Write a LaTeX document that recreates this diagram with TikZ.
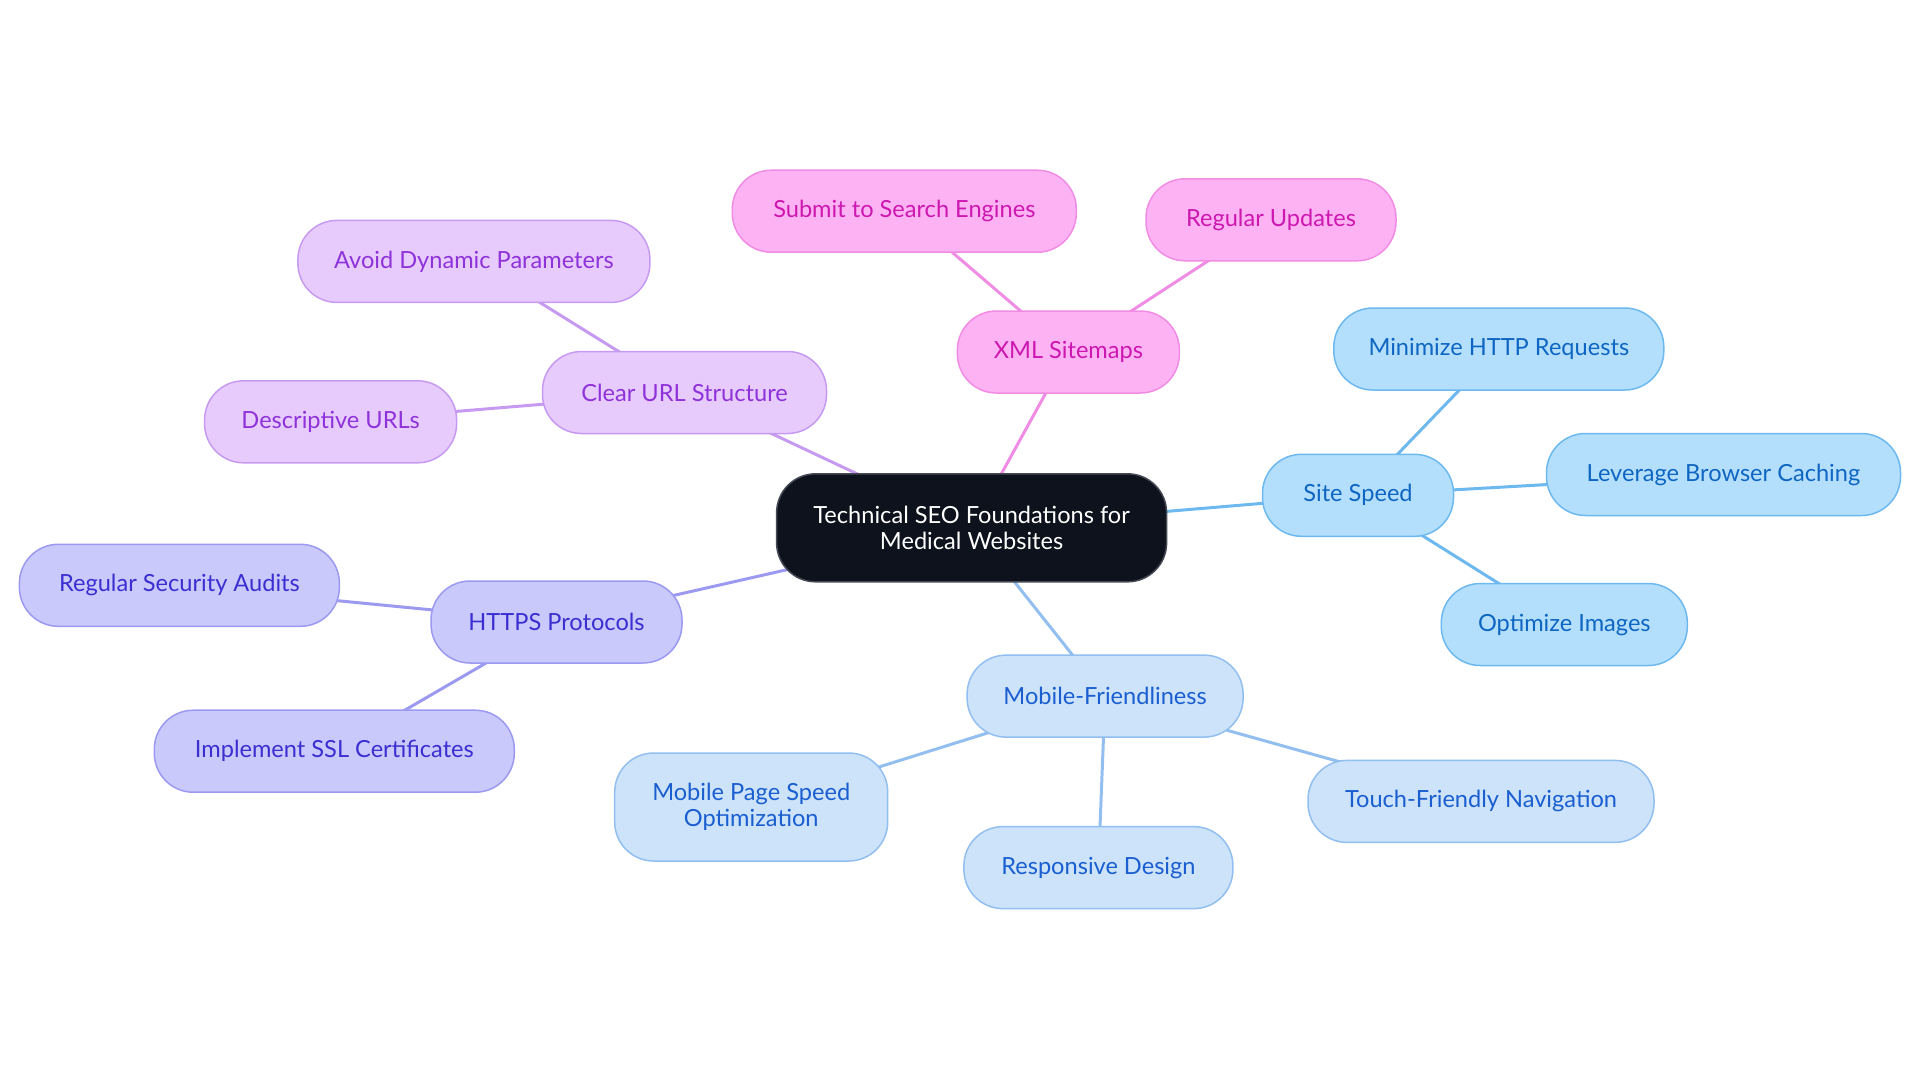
\documentclass[tikz,border=0pt]{standalone}
\usepackage{fontspec}
\setmainfont{Lato}
\usetikzlibrary{backgrounds}
\definecolor{purfill}{HTML}{E8CBFD}
\definecolor{purdraw}{HTML}{C79AF2}
\definecolor{purtext}{HTML}{8E32D9}
\definecolor{pinkfill}{HTML}{FDB3F3}
\definecolor{pinkdraw}{HTML}{F08CE4}
\definecolor{pinktext}{HTML}{CC17B0}
\definecolor{sitefill}{HTML}{B3DFFC}
\definecolor{sitedraw}{HTML}{6DB9EF}
\definecolor{sitetext}{HTML}{0F66C2}
\definecolor{mobfill}{HTML}{CCE3FA}
\definecolor{mobdraw}{HTML}{92BFEF}
\definecolor{mobtext}{HTML}{1A5ED0}
\definecolor{httpfill}{HTML}{C9C9FC}
\definecolor{httpdraw}{HTML}{9B99F0}
\definecolor{httptext}{HTML}{3B2FD1}
\definecolor{rootfill}{HTML}{0D121C}
\definecolor{rootdraw}{HTML}{454A55}
\begin{document}
\begin{tikzpicture}[x=0.5pt,y=-0.5pt,
  box/.style={rounded corners=19.5pt, draw, line width=0.75pt, align=center,
    font=\fontsize{11.8}{12.8}\selectfont, minimum height=41pt, inner sep=0pt},
  root/.style={box, fill=rootfill, draw=rootdraw, text=white, minimum height=54pt},
  purbox/.style={box, fill=purfill, draw=purdraw, text=purtext},
  pinkbox/.style={box, fill=pinkfill, draw=pinkdraw, text=pinktext},
  sitebox/.style={box, fill=sitefill, draw=sitedraw, text=sitetext},
  mobbox/.style={box, fill=mobfill, draw=mobdraw, text=mobtext},
  httpbox/.style={box, fill=httpfill, draw=httpdraw, text=httptext},
  link/.style={line width=1.5pt}
]
\useasboundingbox (0,0) rectangle (1920,1083);

\node[root, minimum width=195pt] (c) at (971.6,527.8) {Technical SEO Foundations for\\Medical Websites};

\node[pinkbox, minimum width=111pt] (xml) at (1068.4,352) {XML Sitemaps};
\node[pinkbox, minimum width=172pt] (submit) at (904.3,211.2) {Submit to Search Engines};
\node[pinkbox, minimum width=125pt] (regupd) at (1271,219.8) {Regular Updates};

\node[purbox, minimum width=142pt] (clear) at (684.5,392.5) {Clear URL Structure};
\node[purbox, minimum width=176pt] (avoid) at (473.9,261.4) {Avoid Dynamic Parameters};
\node[purbox, minimum width=126pt] (descr) at (330.6,421.8) {Descriptive URLs};

\node[sitebox, minimum width=95.5pt] (site) at (1358,495.3) {Site Speed};
\node[sitebox, minimum width=165pt] (minimize) at (1498.8,349) {Minimize HTTP Requests};
\node[sitebox, minimum width=177pt] (leverage) at (1723.5,474.5) {Leverage Browser Caching};
\node[sitebox, minimum width=123pt] (optimize) at (1564.3,624.5) {Optimize Images};

\node[mobbox, minimum width=138pt] (mobile) at (1105.1,696.1) {Mobile-Friendliness};
\node[mobbox, minimum width=136.5pt, minimum height=54pt] (mpage) at (751.2,807) {Mobile Page Speed\\Optimization};
\node[mobbox, minimum width=134.5pt] (resp) at (1098.4,867.6) {Responsive Design};
\node[mobbox, minimum width=173pt] (touch) at (1481,801.4) {Touch-Friendly Navigation};

\node[httpbox, minimum width=125.5pt] (https) at (556.5,622) {HTTPS Protocols};
\node[httpbox, minimum width=160pt] (regsec) at (179.4,585.3) {Regular Security Audits};
\node[httpbox, minimum width=180pt] (ssl) at (334.3,751.2) {Implement SSL Certificates};

\begin{pgfonlayer}{background}
\draw[link, draw=pinkdraw] (c.center) -- (xml.center);
\draw[link, draw=pinkdraw] (xml.center) -- (submit.center);
\draw[link, draw=pinkdraw] (xml.center) -- (regupd.center);
\draw[link, draw=purdraw] (c.center) -- (clear.center);
\draw[link, draw=purdraw] (clear.center) -- (avoid.center);
\draw[link, draw=purdraw] (clear.center) -- (descr.center);
\draw[link, draw=sitedraw] (c.center) -- (site.center);
\draw[link, draw=sitedraw] (site.center) -- (minimize.center);
\draw[link, draw=sitedraw] (site.center) -- (leverage.center);
\draw[link, draw=sitedraw] (site.center) -- (optimize.center);
\draw[link, draw=mobdraw] (c.center) -- (mobile.center);
\draw[link, draw=mobdraw] (mobile.center) -- (mpage.center);
\draw[link, draw=mobdraw] (mobile.center) -- (resp.center);
\draw[link, draw=mobdraw] (mobile.center) -- (touch.center);
\draw[link, draw=httpdraw] (c.center) -- (https.center);
\draw[link, draw=httpdraw] (https.center) -- (regsec.center);
\draw[link, draw=httpdraw] (https.center) -- (ssl.center);
\end{pgfonlayer}
\end{tikzpicture}
\end{document}
